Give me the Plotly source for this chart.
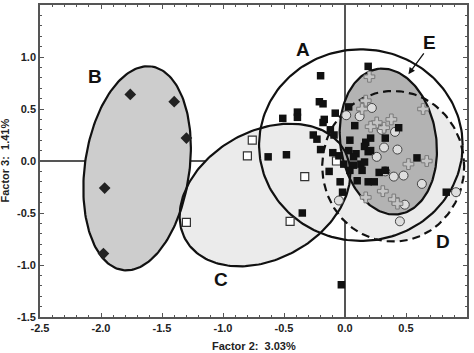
import numpy as np
import plotly.graph_objects as go

# ---------------- data ----------------
# Group A (black squares)
a_x = [0.19, -0.20, -0.21, -0.18, -0.08, -0.39, -0.39, -0.51, 0.03, 0.08, -0.17, -0.18,
       -0.12, -0.09, -0.26, -0.23, -0.20, -0.10, -0.05, -0.48, -0.63, 0.04, 0.21, 0.17,
       0.19, 0.33, 0.44, 0.59, 0.03, 0.09, 0.13, 0.07, 0.04, 0.14, 0.10, 0.19, 0.24,
       0.28, 0.33, -0.01, -0.13, -0.04, -0.02, -0.35, -0.03, 0.83, 0.07, 0.16, 0.16, 0.21]
a_y = [0.91, 0.82, 0.57, 0.55, 0.46, 0.47, 0.42, 0.41, 0.52, 0.34, 0.40, 0.37,
       0.30, 0.25, 0.25, 0.21, 0.11, 0.08, 0.05, 0.06, 0.04, 0.20, 0.22, 0.18,
       0.09, 0.22, 0.32, 0.03, 0.10, 0.07, -0.03, -0.04, -0.09, -0.09, -0.19, -0.20, -0.20,
       -0.11, -0.09, -0.03, -0.10, -0.20, -0.30, -0.50, -1.19, -0.30, 0.04, -0.01, 0.14, 0.10]
# Group B (diamonds)
b_x = [-1.76, -1.40, -1.30, -1.97, -1.98]
b_y = [0.64, 0.57, 0.22, -0.26, -0.89]
# Group C (white squares)
c_x = [-0.76, -0.80, -0.33, -1.30, -0.45, -0.07]
c_y = [0.20, 0.05, -0.15, -0.59, -0.58, 0.00]
# Group D (circles)
d_x = [0.01, 0.12, 0.22, 0.30, 0.41, 0.32, 0.43, 0.26, 0.33, 0.40, 0.48, 0.63, 0.49, 0.45, -0.05, 0.91]
d_y = [0.44, 0.43, 0.51, 0.30, 0.28, 0.13, 0.11, 0.04, -0.10, -0.15, -0.14, -0.22, -0.42, -0.58, -0.38, -0.30]
# Group E (crosses)
e_x = [0.20, 0.17, 0.14, 0.64, 0.26, 0.38, 0.21, 0.32, 0.52, 0.67, 0.31, 0.40, 0.43, 0.17]
e_y = [0.81, 0.58, 0.50, 0.50, 0.37, 0.40, 0.33, 0.32, -0.03, 0.00, -0.29, -0.37, -0.41, -0.35]

# ellipse parameters: name, centre x, centre y, semi-axis a (px), semi-axis b (px), angle (deg)
ellipses = {
    "B": (-1.704, -0.070, 102.8, 52.3, 81.9),
    "C": (-0.656, -0.327, 91.1, 63.8, 29.4),
    "D": (0.395, -0.051, 71.0, 75.3, 0.0),
    "E": (0.355, 0.187, 73.4, 48.0, 98.25),
    "A": (0.130, 0.153, 101.8, 95.8, 0.0),
}

tick_x = [-2.5, -2.0, -1.5, -1.0, -0.5, 0.0, 0.5, 1.0]
tick_x_text = ["-2.5", "-2.0", "-1.5", "-1.0", "-0.5", "0.0", "0.5", "1.0"]
tick_y = [-1.5, -1.0, -0.5, 0.0, 0.5, 1.0, 1.5]
tick_y_text = ["-1.5", "-1.0", "-0.5", "0.0", "0.5", "1.0", "1.5"]

# ---------------- figure ----------------
W, H = 474, 353
ML, MR, MT, MB = 40, 7, 5, 36
SX = (W - ML - MR) / 3.5   # px per x unit
SY = (H - MT - MB) / 3.0   # px per y unit


def ellipse_xy(cx, cy, a, b, ang, n=200):
    t = np.linspace(0, 2 * np.pi, n)
    th = np.deg2rad(ang)
    u, v = a * np.cos(t), b * np.sin(t)
    dx = u * np.cos(th) - v * np.sin(th)
    dy = u * np.sin(th) + v * np.cos(th)
    return cx + dx / SX, cy + dy / SY


fig = go.Figure()
fills = {"B": "#cdcdcd", "C": "#ebebeb", "D": "#ebebeb", "E": "#b3b3b3"}
for k in ["B", "C", "D", "E"]:
    x, y = ellipse_xy(*ellipses[k])
    fig.add_trace(go.Scatter(x=x, y=y, mode="lines", fill="toself", fillcolor=fills[k],
                             line=dict(width=0), hoverinfo="skip", showlegend=False))
for k in ["B", "C", "D", "E", "A"]:
    x, y = ellipse_xy(*ellipses[k])
    fig.add_trace(go.Scatter(x=x, y=y, mode="lines",
                             line=dict(color="#111111", width=2.2,
                                       dash="8px,5px" if k == "D" else "solid"),
                             hoverinfo="skip", showlegend=False))

fig.add_trace(go.Scatter(x=c_x, y=c_y, mode="markers", showlegend=False,
                         marker=dict(symbol="square", size=8, color="white",
                                     line=dict(color="#333333", width=1.2))))
fig.add_trace(go.Scatter(x=d_x, y=d_y, mode="markers", showlegend=False,
                         marker=dict(symbol="circle", size=9, color="#dedede",
                                     line=dict(color="#444444", width=1))))
fig.add_trace(go.Scatter(x=e_x, y=e_y, mode="markers", showlegend=False,
                         marker=dict(symbol="cross", size=9, color="#c4c4c4",
                                     line=dict(color="#7a7a7a", width=1))))
fig.add_trace(go.Scatter(x=a_x, y=a_y, mode="markers", showlegend=False,
                         marker=dict(symbol="square", size=7.5, color="#111111",
                                     line=dict(width=0))))
fig.add_trace(go.Scatter(x=b_x, y=b_y, mode="markers", showlegend=False,
                         marker=dict(symbol="diamond", size=9, color="#222222",
                                     line=dict(width=0))))

lab_font = dict(family="Liberation Sans", size=19, color="#111111", weight=700)
labels = {"A": (-0.345, 1.07), "B": (-2.05, 0.81), "C": (-1.02, -1.14),
          "D": (0.80, -0.77), "E": (0.69, 1.135)}
for k, (lx, ly) in labels.items():
    fig.add_annotation(x=lx, y=ly, text=k, showarrow=False, font=lab_font)
fig.add_annotation(x=0.52, y=0.835, ax=0.655, ay=1.05, axref="x", ayref="y",
                   text="", showarrow=True, arrowhead=2, arrowsize=1,
                   arrowwidth=1.3, arrowcolor="#111111")

tick_font = dict(family="Liberation Sans", size=11, color="#222222", weight=700)
fig.add_annotation(x=0.5, y=-0.094, xref="paper", yref="paper", xanchor="center",
                   yanchor="middle", text="Factor 2:  3.03%", showarrow=False, font=tick_font)
fig.add_annotation(x=-0.083, y=0.5, xref="paper", yref="paper", xanchor="center",
                   yanchor="middle", text="Factor 3:  1.41%", textangle=-90,
                   showarrow=False, font=tick_font)

axis_common = dict(showgrid=False, zeroline=True, zerolinecolor="#555555", zerolinewidth=1.6,
                   showline=True, linecolor="#555555", linewidth=1.6, mirror="ticks",
                   ticks="inside", ticklen=4, tickcolor="#555555", tickfont=tick_font,
                   automargin=False,
                   minor=dict(ticks="inside", ticklen=2.5, dtick=0.1, tickcolor="#555555"))
fig.update_xaxes(range=[-2.5, 1.0], tickvals=tick_x, ticktext=tick_x_text, **axis_common)
fig.update_yaxes(range=[-1.5, 1.5], tickvals=tick_y, ticktext=tick_y_text, **axis_common)

fig.update_layout(width=W, height=H, margin=dict(l=ML, r=MR, t=MT, b=MB),
                  paper_bgcolor="white", plot_bgcolor="white", hovermode=False)
fig.write_html("out.html")
